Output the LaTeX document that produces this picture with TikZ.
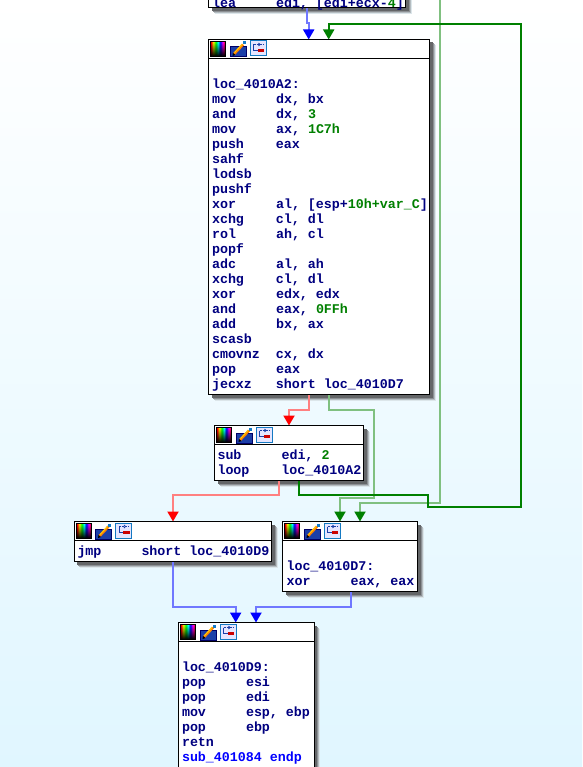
\documentclass[tikz,border=0pt]{standalone}
\usepackage{fontspec}
\newfontfamily\asmfont{Liberation Mono}
\usetikzlibrary{arrows.meta,calc,backgrounds}

\definecolor{asmnavy}{HTML}{000080}
\definecolor{asmgreen}{HTML}{008000}
\definecolor{asmblue}{HTML}{0000FF}
\definecolor{bgblue}{HTML}{E0F6FF}
\definecolor{palered}{HTML}{FF8080}
\definecolor{palegreen}{HTML}{80C080}
\definecolor{paleblue}{HTML}{7078FF}
\definecolor{iconblue}{HTML}{1C3FA8}

\newcommand{\asm}[2]{\rule{0pt}{11pt}\rule[-4pt]{0pt}{4pt}\makebox[64pt][l]{#1}#2}
\newcommand{\num}[1]{\textcolor{asmgreen}{#1}}

\tikzset{
	block/.style={draw=black, fill=white, line width=1pt, anchor=north west, inner sep=0pt, outer sep=0pt},
	asmtext/.style={anchor=north west, inner sep=0pt, outer sep=0pt, align=left, text=asmnavy,
		font=\asmfont\bfseries\fontsize{13.33}{15}\selectfont},
	edge/.style={line width=2pt},
	tip/.style={-{Triangle[length=10pt, width=11pt, fill=#1, color=#1]}},
	redpale/.style={edge, draw=palered, tip=red},
	greenpale/.style={edge, draw=palegreen, tip=asmgreen},
	greenbold/.style={edge, draw=asmgreen, tip=asmgreen},
	bluepale/.style={edge, draw=paleblue, tip=asmblue},
	pics/blockicons/.style={code={
		\fill[black] (1.5,1.5) rectangle (17.5,17.5);
		\foreach \i in {0,...,13}{
			\foreach \j in {0,...,13}{
				\pgfmathsetmacro{\hue}{min(0.92,\i/14)}
				\pgfmathsetmacro{\val}{1-\j/14}
				\definecolor{cellc}{hsb}{\hue,1,\val}
				\fill[cellc] (2.5+\i,2.5+\j) rectangle +(1.05,1.05);
			}
		}
		\fill[iconblue, draw=black!60!asmblue, line width=1pt] (21.5,7.5) rectangle (37.5,17.5);
		\draw[orange, line width=2.6pt] (25.5,14.5) -- (34.5,5);
		\draw[yellow!80!orange, line width=.8pt] (26,13) -- (33.5,5);
		\fill[black] (24,16.5) -- (24.5,13.5) -- (27,15.5) -- cycle;
		\fill[cyan!60!blue] (34,2) rectangle (37,5);
		\fill[blue!10!white, draw=iconblue!70!cyan, line width=1pt] (41.5,1.5) rectangle (57.5,16.5);
		\draw[iconblue, line width=1pt, dash pattern=on 2pt off 1pt] (45,5) -- (55,5);
		\draw[iconblue, line width=1pt] (45,5) -- (45,11) -- (49,11);
		\fill[red!80!black] (49,9.5) rectangle (55.5,12.5);
		\draw[iconblue, line width=.8pt] (50,3.5) -- (51.5,5) -- (50,6.5);
	}}
}

\begin{document}
\begin{tikzpicture}[x=1pt, y=-1pt]
	\useasboundingbox (0,0) rectangle (582,767);

	% ports and bends
	\coordinate (toploc) at (306.5,8);
	\coordinate (topin) at (308.7,39.5);
	\coordinate (loopin) at (328.7,39.5);
	\coordinate (mainred) at (309,395);
	\coordinate (maingreen) at (329,395);
	\coordinate (subin) at (289,425.5);
	\coordinate (subred) at (279,480);
	\coordinate (subgreen) at (299,480);
	\coordinate (jmpin) at (173,521.5);
	\coordinate (xorinA) at (340,521.5);
	\coordinate (xorinB) at (360,521.5);
	\coordinate (jmpout) at (173,561.5);
	\coordinate (xorout) at (350.5,591.5);
	\coordinate (endinA) at (235.7,622.5);
	\coordinate (endinB) at (256,622.5);
	\coordinate (offtop) at (440,-2);

	% blocks
	\node[block, minimum width=197pt, minimum height=48pt] (prevblock) at (208.5,-40) {};
	\node[block, minimum width=221pt, minimum height=355pt] (mainblock) at (208.5,39.5) {};
	\node[block, minimum width=149pt, minimum height=55pt] (subblock) at (214.5,425.5) {};
	\node[block, minimum width=197.5pt, minimum height=40pt] (jmpblock) at (74,521.5) {};
	\node[block, minimum width=135pt, minimum height=70pt] (xorblock) at (282.5,521.5) {};
	\node[block, minimum width=135.5pt, minimum height=170pt] (endblock) at (178.5,622.5) {};

	\begin{pgfonlayer}{background}
		\shade[top color=white, middle color=bgblue!75!white, bottom color=bgblue] (0,0) rectangle (582,767);
		\foreach \shadeoff/\shadegray in {6/DCE6EA,5/B4BCC0,4/8C9094,3/646668}{
			\definecolor{shadowgray}{HTML}{\shadegray}
			\foreach \b in {prevblock,mainblock,subblock,jmpblock,xorblock,endblock}{
				\fill[shadowgray] ($(\b.north west)+(\shadeoff,\shadeoff)$) rectangle ($(\b.south east)+(\shadeoff,\shadeoff)$);
			}
		}
		% edges
		\draw[bluepale] (toploc) -- (306.5,23) -- (308.7,23) -- (topin);
		\draw[greenpale] (offtop) -- (440,502.7) -- (360,502.7) -- (xorinB);
		\draw[greenpale] (maingreen) -- (329,410) -- (374,410) -- (374,498.3) -- (340,498.3) -- (xorinA);
		\draw[greenbold] (subgreen) -- (299,495) -- (428,495) -- (428,506.7) -- (521,506.7) -- (521,24) -- (328.7,24) -- (loopin);
		\draw[redpale] (mainred) -- (309,410) -- (289,410) -- (subin);
		\draw[redpale] (subred) -- (279,495) -- (173,495) -- (jmpin);
		\draw[bluepale] (jmpout) -- (173,607) -- (235.7,607) -- (endinA);
		\draw[bluepale] (xorout) -- (350.5,607) -- (256,607) -- (endinB);
	\end{pgfonlayer}

	\foreach \b in {mainblock,subblock,jmpblock,xorblock,endblock}{
		\draw[line width=1pt] ($(\b.north west)+(0,19)$) -- ($(\b.north east)+(0,19)$);
		\pic at (\b.north west) {blockicons};
	}

	% listings
	\node[asmtext] (prevtext) at ($(prevblock.south west)+(3.5,-11)$) {\asm{lea}{edi, [edi+ecx-\num{4}]}};
	\node[asmtext] (maintext) at ($(mainblock.north west)+(3.5,23)$) {%
		\asm{}{}\\
		\asm{loc\_4010A2:}{}\\
		\asm{mov}{dx, bx}\\
		\asm{and}{dx, \num{3}}\\
		\asm{mov}{ax, \num{1C7h}}\\
		\asm{push}{eax}\\
		\asm{sahf}{}\\
		\asm{lodsb}{}\\
		\asm{pushf}{}\\
		\asm{xor}{al, [esp+\num{10h+var\_C}]}\\
		\asm{xchg}{cl, dl}\\
		\asm{rol}{ah, cl}\\
		\asm{popf}{}\\
		\asm{adc}{al, ah}\\
		\asm{xchg}{cl, dl}\\
		\asm{xor}{edx, edx}\\
		\asm{and}{eax, \num{0FFh}}\\
		\asm{add}{bx, ax}\\
		\asm{scasb}{}\\
		\asm{cmovnz}{cx, dx}\\
		\asm{pop}{eax}\\
		\asm{jecxz}{short loc\_4010D7}};
	\node[asmtext] (subtext) at ($(subblock.north west)+(3,23)$) {%
		\asm{sub}{edi, \num{2}}\\
		\asm{loop}{loc\_4010A2}};
	\node[asmtext] (jmptext) at ($(jmpblock.north west)+(3.5,23)$) {\asm{jmp}{short loc\_4010D9}};
	\node[asmtext] (xortext) at ($(xorblock.north west)+(4,23)$) {%
		\asm{}{}\\
		\asm{loc\_4010D7:}{}\\
		\asm{xor}{eax, eax}};
	\node[asmtext] (endtext) at ($(endblock.north west)+(3.5,23)$) {%
		\asm{}{}\\
		\asm{loc\_4010D9:}{}\\
		\asm{pop}{esi}\\
		\asm{pop}{edi}\\
		\asm{mov}{esp, ebp}\\
		\asm{pop}{ebp}\\
		\asm{retn}{}\\
		\textcolor{asmblue}{\asm{sub\_401084 endp}{}}};
\end{tikzpicture}
\end{document}
